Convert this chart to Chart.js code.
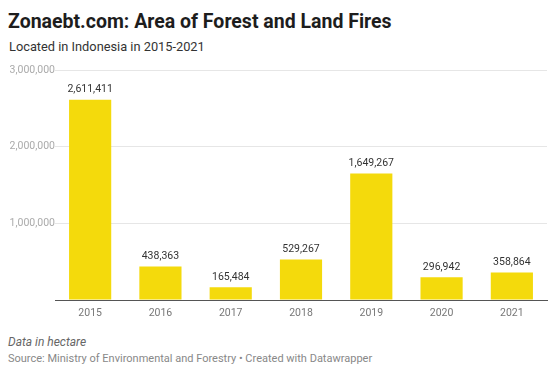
<!DOCTYPE html>
<html>
<head>
<meta charset="utf-8">
<script src="https://cdn.jsdelivr.net/npm/chart.js@4"></script>
<style>
  body { margin: 0; width: 550px; height: 373px; background: #fff; font-family: Roboto, sans-serif; position: relative; overflow: hidden; }
  #title { position: absolute; left: 8px; top: 9px; font-size: 19.5px; font-weight: bold; color: #1d1d1d; line-height: 26px; }
  #subtitle { position: absolute; left: 9px; top: 37px; font-size: 12.8px; color: #333; line-height: 20px; }
  #wrap { position: absolute; left: 0; top: 60px; width: 550px; height: 265px; }
  #note { position: absolute; left: 8px; top: 335px; font-size: 12px; font-style: italic; color: #666; }
  #source { position: absolute; left: 8px; top: 352px; font-size: 11px; color: #888; }
</style>
</head>
<body>
<div id="title">Zonaebt.com: Area of Forest and Land Fires</div>
<div id="subtitle">Located in Indonesia in 2015-2021</div>
<div id="wrap"><canvas id="fireChart"></canvas></div>
<div id="note">Data in hectare</div>
<div id="source">Source: Ministry of Environmental and Forestry • Created with Datawrapper</div>
<script>
const years = ["2015", "2016", "2017", "2018", "2019", "2020", "2021"];
const hectares = [2611411, 438363, 165484, 529267, 1649267, 296942, 358864];
const yTicks = [0, 1000000, 2000000, 3000000];

const barColor = "#f4da0c";

// draw the number above every bar
const valueLabels = {
  id: "valueLabels",
  afterDatasetsDraw(chart) {
    const c = chart.ctx;
    const meta = chart.getDatasetMeta(0);
    c.save();
    c.font = "10.5px Roboto";
    c.fillStyle = "#333";
    c.textAlign = "center";
    c.textBaseline = "bottom";
    meta.data.forEach((bar, i) => {
      c.fillText(hectares[i].toLocaleString("en-US"), bar.x, bar.y - 5);
    });
    c.restore();
  }
};

const ctx = document.getElementById("fireChart");

const chart = new Chart(ctx, {
  type: "bar",
  data: {
    labels: years,
    datasets: [{
      data: hectares,
      backgroundColor: barColor,
      categoryPercentage: 1,
      barPercentage: 0.6
    }]
  },
  options: {
    responsive: true,
    maintainAspectRatio: false,
    animation: false,
    layout: { padding: { top: 10, right: 3, left: 0, bottom: 0 } },
    plugins: {
      legend: { display: false },
      tooltip: { enabled: false }
    },
    scales: {
      x: {
        grid: { display: false, drawTicks: false },
        border: { color: "#555", width: 1 },
        ticks: { color: "#777", font: { family: "Roboto", size: 10.5 }, padding: 7 },
        afterFit(scale) { scale.height = 25; }
      },
      y: {
        min: 0,
        max: 3000000,
        afterBuildTicks(scale) { scale.ticks = yTicks.map(v => ({ value: v })); },
        grid: {
          drawTicks: false,
          color: c => c.tick && c.tick.value === 0 ? "rgba(0,0,0,0)" : "#e6e6e6"
        },
        border: { display: false },
        ticks: {
          color: "#aaa",
          font: { family: "Roboto", size: 10.5 },
          padding: 0,
          callback: v => v === 0 ? "" : v.toLocaleString("en-US")
        },
        afterFit(scale) { scale.width = 55; }
      }
    }
  },
  plugins: [valueLabels]
});
</script>
</body>
</html>
